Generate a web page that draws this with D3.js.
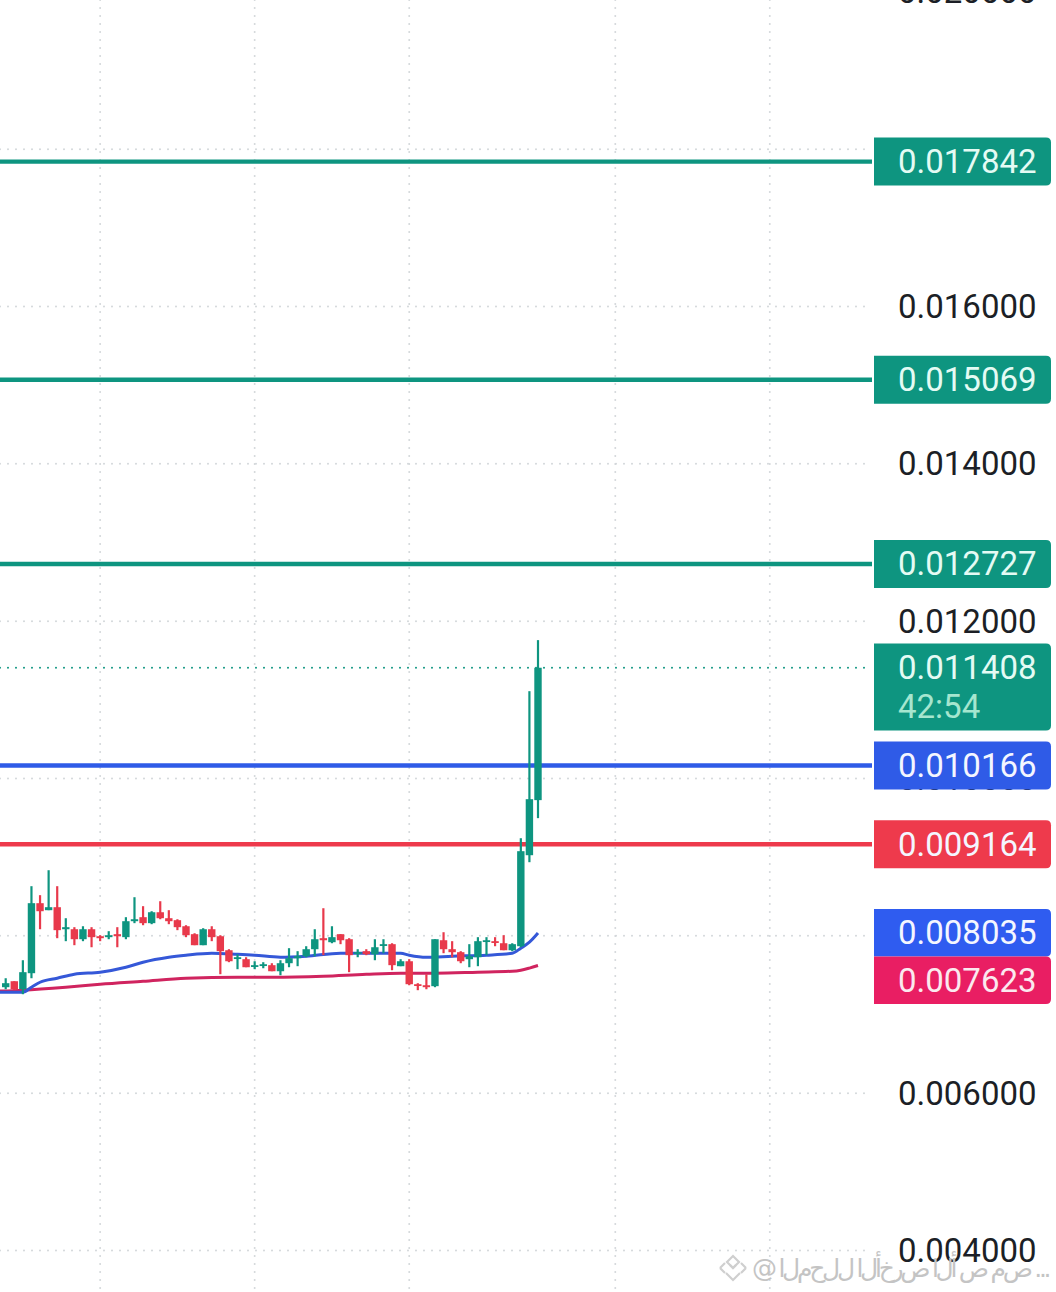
<!DOCTYPE html>
<html><head><meta charset="utf-8">
<script src="https://cdn.jsdelivr.net/npm/d3@7/dist/d3.min.js"></script>
<style>html,body{margin:0;padding:0;background:#fff}svg{display:block}text{font-family:Roboto,sans-serif}</style>
</head><body><svg id="c" width="1056" height="1292"></svg>
<script>
// prices in millionths
const opens=[7347,7423,7321,7525,8415,8326,8364,8084,8084,7957,8084,7995,7983,8021,7983,8186,8237,8161,8300,8224,8199,8122,8021,7881,8084,7995,7817,7716,7703,7614,7627,7627,7550,7652,7716,7741,7830,7970,7919,8021,7957,7779,7805,7766,7881,7894,7614,7677,7385,7372,7360,7944,7830,7792,7703,7728,7932,7932,7906,7817,7868,9025,9725];
const highs=[7461,7423,7690,8631,8517,8834,8631,8224,8110,8122,8110,8008,8059,8110,8237,8491,8377,8313,8440,8326,8211,8135,8033,8097,8122,8008,7830,7766,7728,7677,7665,7652,7690,7843,7805,7868,8084,8351,8122,8021,7970,7830,7830,7957,7957,7906,7703,7703,7398,7512,7957,8046,7932,7805,7894,7983,7983,7983,8008,7906,9241,11110,11759];
const lows=[7321,7309,7258,7461,8084,8326,7970,7932,7881,7932,7855,7932,7957,7855,7957,8161,8135,8148,8211,8148,8072,7983,7881,7881,7932,7512,7665,7576,7601,7576,7588,7550,7499,7601,7614,7728,7741,7754,7906,7894,7538,7728,7754,7690,7779,7563,7614,7372,7309,7321,7347,7779,7728,7652,7601,7614,7754,7868,7817,7805,7855,8936,9496];
const closes=[7398,7321,7538,8415,8313,8364,8072,8110,7957,8084,7983,7970,8008,7995,8186,8211,8161,8300,8224,8186,8110,8008,7881,8084,7983,7805,7677,7728,7601,7627,7639,7550,7652,7716,7741,7830,7957,7944,7983,7944,7754,7792,7766,7855,7894,7627,7677,7385,7372,7347,7957,7830,7792,7677,7741,7932,7944,7919,7817,7894,9076,9737,11408];
// moving averages sampled at candle positions
const maFastIdx=[-1,2,3,4,6,8,11,14,16,19,21,24,27,29,32,35,39,42,46,47,49,52,56,59,60,61,62];
const maFastVal=[7283,7283,7347,7410,7461,7512,7538,7601,7665,7728,7754,7779,7766,7754,7728,7741,7779,7779,7779,7754,7728,7741,7754,7779,7843,7919,8035];
const maSlowIdx=[-1,2,7,11,16,21,27,31,37,42,46,50,55,59,60,61,62];
const maSlowVal=[7296,7309,7347,7385,7423,7461,7474,7474,7487,7512,7525,7525,7538,7550,7563,7590,7623];
const gridPrices=[20000,18000,16000,14000,12000,10000,8000,6000,4000];
const tickPrices=[20000,16000,14000,12000,10000,6000,4000];
const tickLabels=["0.020000","0.016000","0.014000","0.012000","0.010000","0.006000","0.004000"];
const gridTimes=[11,29,47,71,89];
const levelPrices=[17842,15069,12727,10166,9164];
const levelLabels=["0.017842","0.015069","0.012727","0.010166","0.009164"];
const levelColors=["#0e9580","#0e9580","#0e9580","#2f5be7","#ee3a4c"];
const maLabels=["0.008035","0.007623"];
const maColors=["#2f5cf0","#e91e63"];
const lastPrice=11408, lastLabel="0.011408", countdown="42:54";

const svg=d3.select("#c");
const y=d3.scaleLinear().domain([4000,16000]).range([1250.5,306.5]);
const x=d3.scaleLinear().domain([0,62]).range([5.7,538]);
const up="#0e9580",down="#e8394b";
const AX=874;

const grid=svg.append("g").attr("stroke","#d3d7da").attr("stroke-width",2).attr("stroke-dasharray","0 8").attr("stroke-linecap","round");
grid.selectAll(".h").data(gridPrices).join("line").attr("class","h").attr("x1",0).attr("x2",866).attr("y1",d=>y(d)).attr("y2",d=>y(d));
grid.selectAll(".v").data(gridTimes).join("line").attr("class","v").attr("x1",d=>x(d)).attr("x2",d=>x(d)).attr("y1",0).attr("y2",1292);

// levels
svg.selectAll(".lv").data(levelPrices).join("line").attr("class","lv").attr("x1",0).attr("x2",872).attr("y1",d=>y(d)).attr("y2",d=>y(d))
  .attr("stroke",(d,i)=>levelColors[i]).attr("stroke-width",4.4);
// last price dotted
svg.append("line").attr("x1",0).attr("x2",868).attr("y1",y(lastPrice)).attr("y2",y(lastPrice)).attr("stroke",up).attr("stroke-width",2).attr("stroke-dasharray","0 8").attr("stroke-linecap","round");

// MAs
const line=d3.line().x(d=>x(d[0])).y(d=>y(d[1])).curve(d3.curveMonotoneX);
svg.append("path").attr("d",line(d3.zip(maSlowIdx,maSlowVal))).attr("fill","none").attr("stroke","#d0245f").attr("stroke-width",3);
svg.append("path").attr("d",line(d3.zip(maFastIdx,maFastVal))).attr("fill","none").attr("stroke","#3558d8").attr("stroke-width",3);

// candles
const idx=d3.range(opens.length);
const bw=7.4;
const col=i=>closes[i]>=opens[i]?up:down;
svg.append("g").selectAll("line").data(idx).join("line").attr("x1",i=>x(i)).attr("x2",i=>x(i)).attr("y1",i=>y(highs[i])).attr("y2",i=>y(lows[i])).attr("stroke",col).attr("stroke-width",2.2);
svg.append("g").selectAll("rect").data(idx).join("rect").attr("x",i=>x(i)-bw/2).attr("width",bw)
  .attr("y",i=>y(Math.max(opens[i],closes[i]))).attr("height",i=>Math.max(1.8,Math.abs(y(opens[i])-y(closes[i])))).attr("fill",col);

// axis labels (plain)
const T=898;
svg.append("g").selectAll("text").data(tickPrices).join("text").attr("x",T).attr("y",d=>y(d)+11.5).text((d,i)=>tickLabels[i]).attr("fill","#1c1f26").attr("font-size",33);

function box(yc,h,fill,top){
  const r=5,x0=AX,x1=1051,y0=top!==undefined?top:yc-h/2,y1=y0+h;
  svg.append("path").attr("d",`M${x0},${y0}H${x1-r}Q${x1},${y0} ${x1},${y0+r}V${y1-r}Q${x1},${y1} ${x1-r},${y1}H${x0}Z`).attr("fill",fill);
}
function lab(yb,s,fill){svg.append("text").attr("x",T).attr("y",yb).text(s).attr("fill",fill).attr("font-size",33);}

levelPrices.slice(0,3).forEach((p,i)=>{box(y(p),48,levelColors[i]);lab(y(p)+11.5,levelLabels[i],"#e4fbf4");});
box(0,87,up,643.5);lab(y(lastPrice)+11.5,lastLabel,"#e4fbf4");lab(718,countdown,"#a5e6cf");
levelPrices.slice(3).forEach((p,i)=>{box(y(p),48,levelColors[i+3]);lab(y(p)+11.5,levelLabels[i+3],"#f4f6ff");});
// moving-average tags are stacked so they do not collide
const tagTop=909, tagH=47.5;
maLabels.forEach((s,i)=>{box(0,tagH,maColors[i],tagTop+i*tagH);lab(tagTop+i*tagH+tagH/2+11.5,s,i?"#fbe9ef":"#f4f6ff");});

// watermark
const wm=svg.append("g");
wm.append("g").attr("transform","translate(733,1268)").attr("fill","none").attr("stroke","#cfcfcf").attr("stroke-width",2.2)
 .selectAll("path").data(["M0,-12L6,-6L0,0L-6,-6Z","M-13,0L-8,-5M-13,0L-8,5M13,0L8,-5M13,0L8,5","M-7,5L0,12L7,5","M-3,-3L0,0L3,-3"]).join("path").attr("d",d=>d);
wm.append("text").attr("x",752).attr("y",1277).attr("font-size",25).style("font-family","'DejaVu Sans'").attr("fill","#c4c4c4")
  .attr("textLength",293).attr("lengthAdjust","spacing")
  .text("\u202D@ \uFE8D\uFEDD\uFEE1\uFEA1\uFEDD\uFEDD \uFE8D\uFEDD\uFE83\uFEA5\uFEAD\uFEB9 \uFE8D\uFEDD\uFE83 \uFEB9 \uFEE1\uFEB9 ...\u202C");
</script></body></html>
